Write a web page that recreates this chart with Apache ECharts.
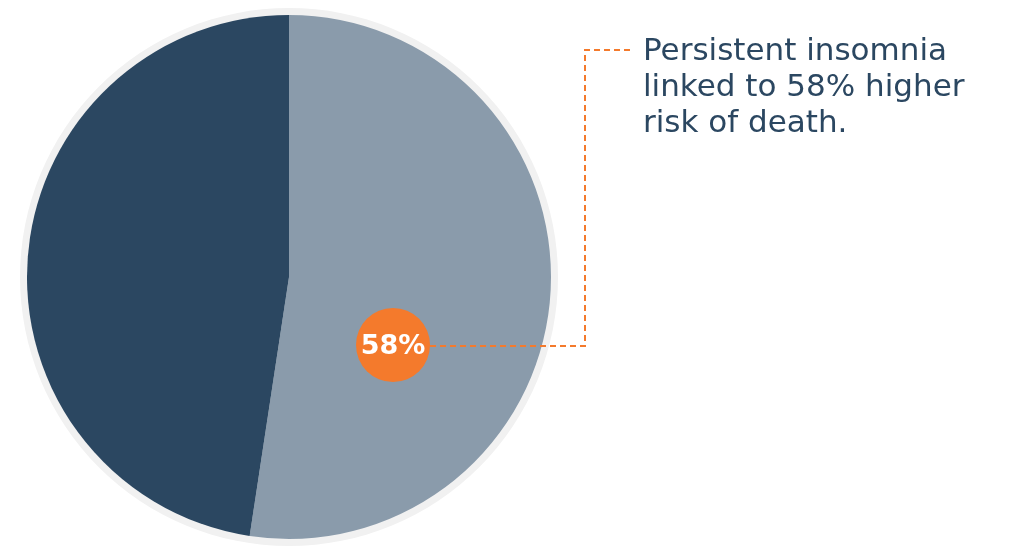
<!DOCTYPE html>
<html>
<head>
<meta charset="utf-8">
<script src="https://cdn.jsdelivr.net/npm/echarts@6/dist/echarts.min.js"></script>
<style>
  html, body { margin: 0; padding: 0; background: #fff; }
  #chart { width: 1024px; height: 554px; }
</style>
</head>
<body>
<div id="chart"></div>
<script>
// slice shares (light slice is the 58% group)
const names = ['Persistent insomnia', 'Other']
const values = [52.4, 47.6]
const colors = ['#8a9bab', '#2b4761']
const badge = '58%'
const noteLines = ['Persistent insomnia', 'linked to 58% higher', 'risk of death.']

const chart = echarts.init(document.getElementById('chart'))

const orange = '#f47a2c'
const cx = 289
const cy = 277

chart.setOption({
  animation: false,
  series: [
    {
      // faint outer ring
      type: 'pie',
      silent: true,
      center: [cx, cy],
      radius: [258, 269],
      label: { show: false },
      itemStyle: { color: '#f1f1f1' },
      data: [{ value: 1 }],
      z: 1
    },
    {
      type: 'pie',
      center: [cx, cy],
      radius: [0, 262],
      startAngle: 90,
      clockwise: true,
      label: { show: false },
      labelLine: { show: false },
      data: names.map((n, i) => ({
        name: n,
        value: values[i],
        itemStyle: { color: colors[i] }
      })),
      z: 2
    }
  ],
  graphic: [
    {
      type: 'polyline',
      z: 10,
      shape: { points: [[430, 346], [585, 346], [585, 50], [632, 50]] },
      style: { stroke: orange, lineWidth: 2, lineDash: [6, 4], fill: null }
    },
    {
      type: 'circle',
      z: 11,
      shape: { cx: 393, cy: 345, r: 37 },
      style: { fill: orange }
    },
    {
      type: 'text',
      z: 12,
      x: 393,
      y: 347,
      style: {
        text: badge,
        fill: '#fff',
        font: 'bold 27px "DejaVu Sans"',
        align: 'center',
        verticalAlign: 'middle'
      }
    },
    {
      type: 'text',
      z: 12,
      x: 643,
      y: 34,
      style: {
        text: noteLines.join('\n'),
        fill: '#2b4761',
        font: '31px "DejaVu Sans"',
        lineHeight: 36,
        align: 'left',
        verticalAlign: 'top'
      }
    }
  ]
})
</script>
</body>
</html>
